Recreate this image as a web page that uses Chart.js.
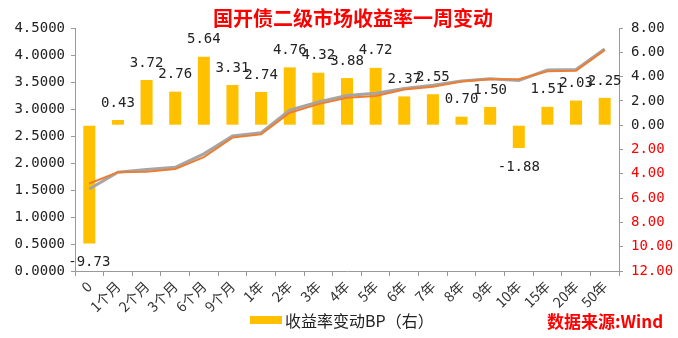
<!DOCTYPE html>
<html>
<head>
<meta charset="utf-8">
<script src="https://cdn.jsdelivr.net/npm/chart.js@4/dist/chart.umd.min.js"></script>
<style>
  html, body { margin: 0; padding: 0; background: #fff; }
  canvas { display: block; }
</style>
</head>
<body>
<canvas id="grafico" width="678" height="338"></canvas>
<script>
  const categorias = ['0', '1个月', '2个月', '3个月', '6个月', '9个月', '1年', '2年', '3年', '4年',
                      '5年', '6年', '7年', '8年', '9年', '10年', '15年', '20年', '50年'];
  const variacaoBP = [-9.73, 0.43, 3.72, 2.76, 5.64, 3.31, 2.74, 4.76, 4.32, 3.88,
                      4.72, 2.37, 2.55, 0.70, 1.50, -1.88, 1.51, 2.03, 2.25];
  const taxaAtual = [1.52, 1.83, 1.88, 1.92, 2.17, 2.50, 2.56, 2.98, 3.13, 3.25,
                     3.29, 3.38, 3.44, 3.52, 3.56, 3.53, 3.72, 3.73, 4.11];
  const taxaAnterior = [1.62, 1.83, 1.84, 1.89, 2.11, 2.47, 2.53, 2.93, 3.09, 3.21,
                        3.24, 3.36, 3.41, 3.51, 3.55, 3.55, 3.70, 3.71, 4.09];

  const MONO = '"DejaVu Sans Mono", monospace';
  const CJK = '"Noto Sans CJK SC", "Noto Sans", sans-serif';

  /* ── rótulos das barras, título, legenda e fonte ── */
  const extras = {
    id: 'extras',
    afterDatasetsDraw(chart) {
      const { ctx } = chart;
      const meta = chart.getDatasetMeta(2);
      ctx.save();
      ctx.font = `14px ${MONO}`;
      ctx.fillStyle = '#222';
      ctx.textAlign = 'center';
      ctx.textBaseline = 'middle';
      meta.data.forEach((bar, i) => {
        const v = variacaoBP[i];
        const y = v >= 0 ? bar.y - 17 : bar.y + 19;
        ctx.fillText(v.toFixed(2), bar.x, y);
      });
      ctx.restore();
    },
    afterDraw(chart) {
      const { ctx } = chart;
      ctx.save();
      ctx.fillStyle = '#ff0000';
      ctx.textBaseline = 'middle';
      ctx.textAlign = 'center';
      ctx.font = `bold 20px ${CJK}`;
      ctx.fillText('国开债二级市场收益率一周变动', 353, 18);

      ctx.textAlign = 'left';
      ctx.font = `bold 17px ${CJK}`;
      ctx.fillText('数据来源:Wind', 547, 322);

      ctx.fillStyle = '#ffc000';
      ctx.fillRect(250, 316, 32, 8);
      ctx.fillStyle = '#222';
      ctx.font = `16px ${CJK}`;
      ctx.fillText('收益率变动BP（右）', 285, 321);
      ctx.restore();
    }
  };

  new Chart(document.getElementById('grafico'), {
    data: {
      labels: categorias,
      datasets: [
        {
          type: 'line', label: '上周', data: taxaAnterior, yAxisID: 'y',
          borderColor: '#ed7d31', borderWidth: 2, pointRadius: 0, tension: 0, order: 0
        },
        {
          type: 'line', label: '本周', data: taxaAtual, yAxisID: 'y',
          borderColor: '#a5a5a5', borderWidth: 3, pointRadius: 0, tension: 0, order: 1
        },
        {
          type: 'bar', label: '收益率变动BP（右）', data: variacaoBP, yAxisID: 'y1',
          backgroundColor: '#ffc000', barPercentage: 0.42, categoryPercentage: 1, order: 2
        }
      ]
    },
    options: {
      responsive: false,
      animation: false,
      devicePixelRatio: 1,
      layout: { padding: { top: 28, left: 0, right: 0, bottom: 0 } },
      plugins: {
        legend: { display: false },
        title: { display: false },
        tooltip: { enabled: false }
      },
      scales: {
        x: {
          offset: true,
          grid: { offset: true, drawOnChartArea: false, drawTicks: true, tickLength: 5, color: '#999' },
          border: { display: true, color: '#999' },
          ticks: { color: '#333', font: { family: CJK, size: 14 }, minRotation: 45, maxRotation: 45, padding: 2 },
          afterFit(scale) { scale.height = 67; }
        },
        y: {
          position: 'left', min: 0, max: 4.5,
          grid: { drawOnChartArea: false, drawTicks: true, tickLength: 4, color: '#999' },
          border: { display: true, color: '#999' },
          ticks: {
            stepSize: 0.5, color: '#222', padding: 6,
            font: { family: MONO, size: 14 },
            callback: v => v.toFixed(4)
          },
          afterFit(scale) { scale.width = 75; }
        },
        y1: {
          position: 'right', min: -12, max: 8,
          grid: { drawOnChartArea: false, drawTicks: true, tickLength: 4, color: '#999' },
          border: { display: true, color: '#999' },
          ticks: {
            stepSize: 2, padding: 8,
            font: { family: MONO, size: 14 },
            color: c => (c.tick && c.tick.value < 0 ? '#ff0000' : '#222'),
            callback: v => Math.abs(v).toFixed(2)
          },
          afterFit(scale) { scale.width = 59; }
        }
      }
    },
    plugins: [extras]
  });
</script>
</body>
</html>
